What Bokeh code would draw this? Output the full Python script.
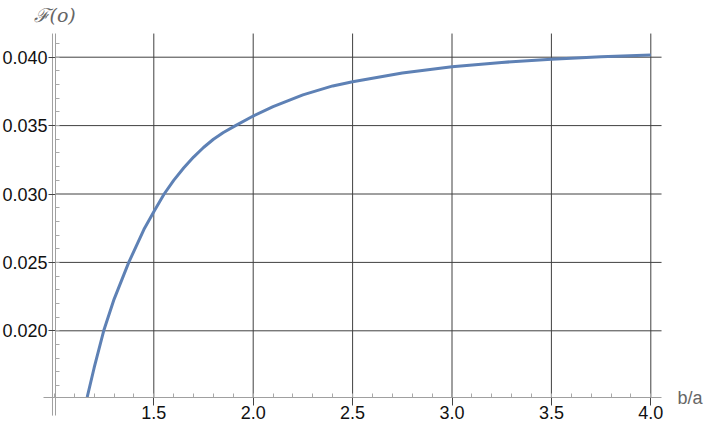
import numpy as np
from bokeh.plotting import figure
from bokeh.models import (Range1d, FixedTicker, PrintfTickFormatter, Label,
                          LinearAxis)
from bokeh.embed import file_html
from bokeh.resources import INLINE

# ---- data ----
b_over_a = [1.165, 1.20, 1.248, 1.30, 1.374, 1.45, 1.50, 1.552, 1.60, 1.65,
            1.70, 1.75, 1.80, 1.85, 1.911, 2.0, 2.1, 2.25, 2.4, 2.5, 2.75,
            3.0, 3.25, 3.5, 3.75, 4.0]
F_o = [0.01515, 0.0173, 0.0200, 0.0223, 0.0250, 0.0274, 0.0287, 0.0300,
       0.0310, 0.0319, 0.0327, 0.0334, 0.0340, 0.0345, 0.0350, 0.0357,
       0.03638, 0.03725, 0.0379, 0.0382, 0.03885, 0.0393, 0.03962,
       0.03985, 0.04003, 0.04017]

x_ticks = [1.5, 2.0, 2.5, 3.0, 3.5, 4.0]
y_ticks = [0.020, 0.025, 0.030, 0.035, 0.040]
x_minor = [round(v, 1) for v in np.arange(1.0, 4.05, 0.1)]
y_minor = [round(v, 3) for v in np.arange(0.016, 0.0415, 0.001)]

x_label = "b/a"
y_label = "ℱ(o)"

# plot-region limits (data units)
X_AXIS_AT = 0.01515      # where the horizontal axis crosses
Y_AXIS_AT = 1.0055       # where the vertical axis crosses
X_END = 4.054
Y_END = 0.04173

# ---- figure: the frame fills the whole canvas ----
p = figure(width=705, height=427, output_backend="svg", toolbar_location=None,
           x_range=Range1d(0.72887, 4.27515), y_range=Range1d(0.012931, 0.044145),
           x_axis_type=None, y_axis_type=None,
           min_border_left=0, min_border_right=0, min_border_top=0,
           min_border_bottom=0)
p.outline_line_color = None
p.background_fill_color = "white"
p.xgrid.visible = False
p.ygrid.visible = False

# grid lines, limited to the plot region
grid_color = "#404040"
p.segment(x0=x_ticks, y0=[X_AXIS_AT] * len(x_ticks), x1=x_ticks,
          y1=[Y_END] * len(x_ticks), line_color=grid_color, line_width=1)
p.segment(x0=[Y_AXIS_AT] * len(y_ticks), y0=y_ticks, x1=[X_END] * len(y_ticks),
          y1=y_ticks, line_color=grid_color, line_width=1)

# second line of the y-axis double line
p.segment(x0=[0.9904], y0=[0.0138], x1=[0.9904], y1=[Y_END],
          line_color="#a0a0a0", line_width=1)

p.line(b_over_a, F_o, line_color="#5E81B5", line_width=3)

xaxis = LinearAxis(ticker=FixedTicker(ticks=x_ticks, minor_ticks=x_minor),
                   formatter=PrintfTickFormatter(format="%.1f"),
                   fixed_location=X_AXIS_AT, bounds=(0.945, X_END))
yaxis = LinearAxis(ticker=FixedTicker(ticks=y_ticks, minor_ticks=y_minor),
                   formatter=PrintfTickFormatter(format="%.3f"),
                   fixed_location=Y_AXIS_AT, bounds=(0.0138, Y_END))
for ax in (xaxis, yaxis):
    ax.axis_line_color = "#a0a0a0"
    ax.axis_line_width = 1
    ax.major_tick_line_color = "#444444"
    ax.minor_tick_line_color = "#a8a8a8"
    ax.major_tick_in = 0
    ax.minor_tick_out = 0
    ax.minor_tick_in = 4
    ax.major_label_text_color = "#111111"
    ax.major_label_text_font = "Liberation Sans"
    ax.major_label_text_font_size = "18px"
xaxis.major_tick_out = 8
xaxis.major_label_standoff = 1
yaxis.major_tick_out = 7
yaxis.major_label_standoff = 1
p.add_layout(xaxis, "below")
p.add_layout(yaxis, "left")

p.add_layout(Label(x=4.1343, y=0.015051, text=x_label, text_baseline="middle",
                   text_align="left", text_font="Liberation Sans",
                   text_font_size="18px", text_color="#666666"))
p.add_layout(Label(x=0.8949, y=0.043121, text=y_label, text_baseline="middle",
                   text_align="left", text_font="DejaVu Serif",
                   text_font_style="italic",
                   text_font_size="19px", text_color="#666666"))

open("out.html", "w").write(file_html(p, INLINE))
